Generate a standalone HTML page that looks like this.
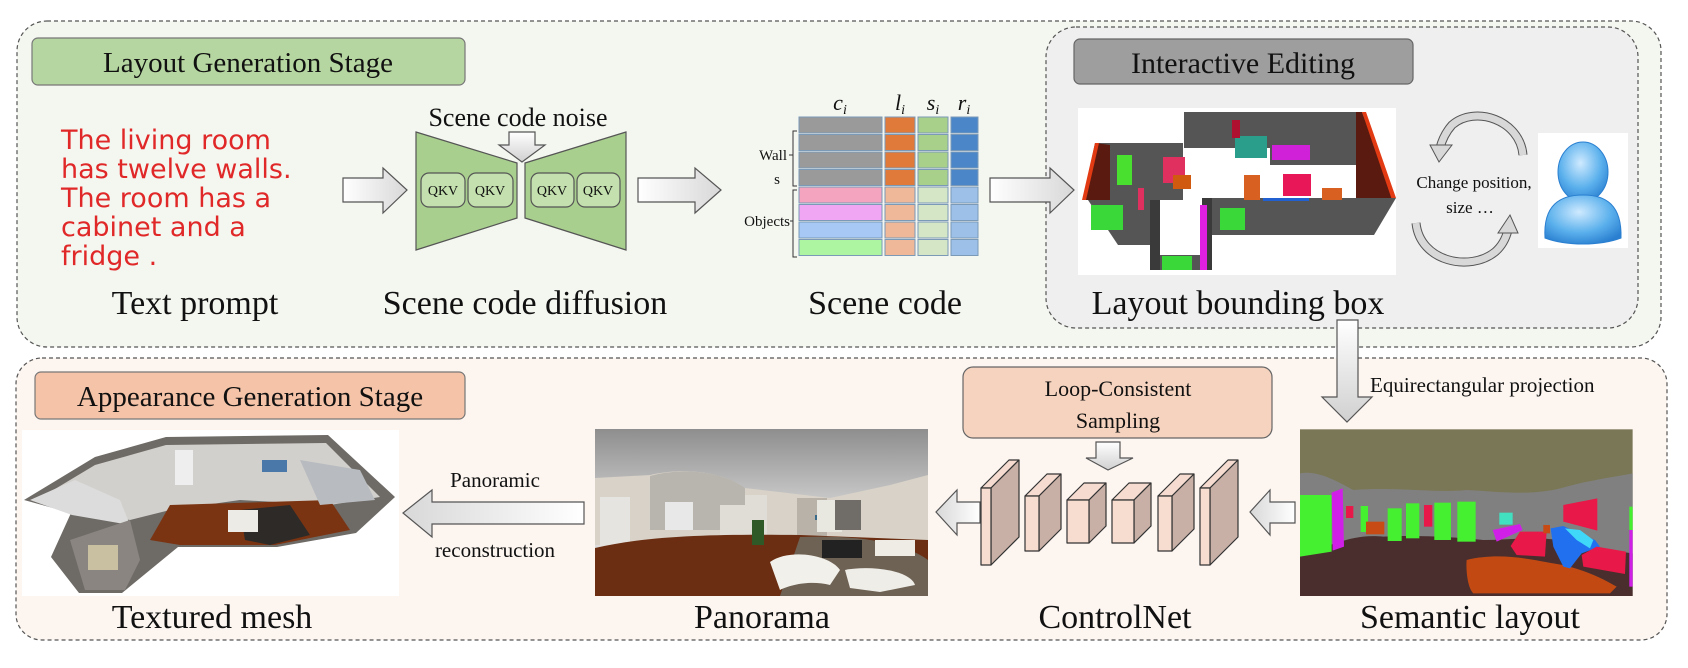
<!DOCTYPE html>
<html><head><meta charset="utf-8"><style>
html,body{margin:0;padding:0;background:#fff;}
svg{display:block;}
text{font-family:"Liberation Serif",serif;fill:#111;}
</style></head><body>
<svg width="1688" height="668" viewBox="0 0 1688 668" xmlns="http://www.w3.org/2000/svg">
<defs>
<linearGradient id="ag" x1="0" y1="0" x2="1" y2="0"><stop offset="0" stop-color="#fff"/><stop offset="1" stop-color="#d8d8d8"/></linearGradient>
<linearGradient id="agl" x1="1" y1="0" x2="0" y2="0"><stop offset="0" stop-color="#fff"/><stop offset="1" stop-color="#d8d8d8"/></linearGradient>
<linearGradient id="agd" x1="0" y1="0" x2="0" y2="1"><stop offset="0" stop-color="#fff"/><stop offset="1" stop-color="#d0d0d0"/></linearGradient>
<radialGradient id="user" cx="0.45" cy="0.35" r="0.7"><stop offset="0" stop-color="#cfeaff"/><stop offset="0.6" stop-color="#5ab0ec"/><stop offset="1" stop-color="#2a7fd0"/></radialGradient>
<linearGradient id="ceil" x1="0" y1="0" x2="0" y2="1"><stop offset="0" stop-color="#8e8e8e"/><stop offset="0.6" stop-color="#e0e0e0"/><stop offset="1" stop-color="#cfcfcf"/></linearGradient>
</defs>

<!-- Top stage box -->
<rect x="17" y="21" width="1644" height="326" rx="30" fill="#f4f7f0" stroke="#555" stroke-width="1.2" stroke-dasharray="4,3"/>
<rect x="1046" y="27" width="592" height="301" rx="30" fill="#efefef" stroke="#555" stroke-width="1.2" stroke-dasharray="4,3"/>

<rect x="32" y="38" width="433" height="47" rx="6" fill="#b5d6a0" stroke="#777" stroke-width="1.2"/>
<text x="248" y="72" font-size="29" text-anchor="middle">Layout Generation Stage</text>

<g font-size="27">
<text x="61" y="149" style="fill:#e02828;font-family:'DejaVu Sans',sans-serif">The living room</text>
<text x="61" y="178" style="fill:#e02828;font-family:'DejaVu Sans',sans-serif">has twelve walls.</text>
<text x="61" y="207" style="fill:#e02828;font-family:'DejaVu Sans',sans-serif">The room has a</text>
<text x="61" y="236" style="fill:#e02828;font-family:'DejaVu Sans',sans-serif">cabinet and a</text>
<text x="61" y="265" style="fill:#e02828;font-family:'DejaVu Sans',sans-serif">fridge .</text>
</g>

<polygon points="343,178 383,178 383,168 407,190 383,213 383,202 343,202" fill="url(#ag)" stroke="#555" stroke-width="1.2"/>

<text x="518" y="126" font-size="26" text-anchor="middle">Scene code noise</text>
<polygon points="416,132 517,163 517,218 416,250" fill="#a9cf8e" stroke="#555" stroke-width="1.2"/>
<polygon points="626,132 525,163 525,218 626,250" fill="#a9cf8e" stroke="#555" stroke-width="1.2"/>
<polygon points="509,132 535,132 535,145 545,145 522,162 499,145 509,145" fill="url(#agd)" stroke="#555" stroke-width="1.2"/>
<g fill="#c3e0ae" stroke="#555" stroke-width="1.2">
<rect x="421" y="173" width="44" height="34" rx="8"/><rect x="468" y="173" width="45" height="34" rx="8"/>
<rect x="531" y="173" width="43" height="34" rx="8"/><rect x="577" y="173" width="43" height="34" rx="8"/>
</g>
<g font-size="14" text-anchor="middle"><text x="443" y="195">QKV</text><text x="490" y="195">QKV</text><text x="552" y="195">QKV</text><text x="598" y="195">QKV</text></g>

<polygon points="638,178 695,178 695,168 721,190 695,213 695,202 638,202" fill="url(#ag)" stroke="#555" stroke-width="1.2"/>

<g font-size="22" font-style="italic" text-anchor="middle">
<text x="840" y="110">c<tspan font-size="14" dy="4">i</tspan></text>
<text x="900" y="110">l<tspan font-size="14" dy="4">i</tspan></text>
<text x="933" y="110">s<tspan font-size="14" dy="4">i</tspan></text>
<text x="964" y="110">r<tspan font-size="14" dy="4">i</tspan></text>
</g>
<g stroke="#7a9ab8" stroke-width="1">
<rect x="799" y="117" width="83" height="16" fill="#9a9a9a"/><rect x="799" y="134.5" width="83" height="16" fill="#9a9a9a"/><rect x="799" y="152" width="83" height="16" fill="#9a9a9a"/><rect x="799" y="169.5" width="83" height="16" fill="#9a9a9a"/>
<rect x="799" y="187" width="83" height="16" fill="#f4a4be"/><rect x="799" y="204.5" width="83" height="16" fill="#f0a6f2"/><rect x="799" y="222" width="83" height="16" fill="#a7c8f4"/><rect x="799" y="239.5" width="83" height="16" fill="#aef5a2"/>
<rect x="885" y="117" width="30" height="16" fill="#e07a3a"/><rect x="885" y="134.5" width="30" height="16" fill="#e07a3a"/><rect x="885" y="152" width="30" height="16" fill="#e07a3a"/><rect x="885" y="169.5" width="30" height="16" fill="#e07a3a"/>
<rect x="885" y="187" width="30" height="16" fill="#efb898"/><rect x="885" y="204.5" width="30" height="16" fill="#efb898"/><rect x="885" y="222" width="30" height="16" fill="#efb898"/><rect x="885" y="239.5" width="30" height="16" fill="#efb898"/>
<rect x="918" y="117" width="30" height="16" fill="#a8d08a"/><rect x="918" y="134.5" width="30" height="16" fill="#a8d08a"/><rect x="918" y="152" width="30" height="16" fill="#a8d08a"/><rect x="918" y="169.5" width="30" height="16" fill="#a8d08a"/>
<rect x="918" y="187" width="30" height="16" fill="#d5e6c6"/><rect x="918" y="204.5" width="30" height="16" fill="#d5e6c6"/><rect x="918" y="222" width="30" height="16" fill="#d5e6c6"/><rect x="918" y="239.5" width="30" height="16" fill="#d5e6c6"/>
<rect x="951" y="117" width="27" height="16" fill="#4a86c8"/><rect x="951" y="134.5" width="27" height="16" fill="#4a86c8"/><rect x="951" y="152" width="27" height="16" fill="#4a86c8"/><rect x="951" y="169.5" width="27" height="16" fill="#4a86c8"/>
<rect x="951" y="187" width="27" height="16" fill="#9cc0e8"/><rect x="951" y="204.5" width="27" height="16" fill="#9cc0e8"/><rect x="951" y="222" width="27" height="16" fill="#9cc0e8"/><rect x="951" y="239.5" width="27" height="16" fill="#9cc0e8"/>
</g>
<path d="M797,131 h-4 v55 h4 M793,155 h-4" fill="none" stroke="#333" stroke-width="1"/>
<path d="M797,190 h-4 v67 h4 M793,221 h-3" fill="none" stroke="#333" stroke-width="1"/>
<g font-size="15" text-anchor="end"><text x="787" y="160">Wall</text><text x="780" y="184">s</text><text x="790" y="226">Objects</text></g>

<polygon points="990,178 1050,178 1050,168 1074,190 1050,213 1050,202 990,202" fill="url(#ag)" stroke="#555" stroke-width="1.2"/>

<rect x="1074" y="39" width="339" height="45" rx="6" fill="#9e9e9e" stroke="#666" stroke-width="1.2"/>
<text x="1243" y="73" font-size="30" text-anchor="middle">Interactive Editing</text>

<rect x="1078" y="108" width="318" height="167" fill="#fff"/>
<g>
<polygon points="1184,112 1356,112 1356,165 1270,165 1270,148 1184,148" fill="#555"/>
<polygon points="1356,112 1362,112 1395,198 1356,205" fill="#5a1a10"/>
<polygon points="1362,112 1366,112 1396,198 1392,200" fill="#e23a12"/>
<polygon points="1095,143 1183,143 1183,200 1106,200 1095,175" fill="#555"/>
<polygon points="1095,143 1110,145 1110,200 1083,200" fill="#5a1a10"/>
<polygon points="1095,143 1099,143 1086,200 1082,200" fill="#e23a12"/>
<polygon points="1210,198 1396,198 1374,235 1210,235" fill="#555"/>
<polygon points="1088,200 1150,200 1150,245 1118,245" fill="#555"/>
<rect x="1150" y="200" width="10" height="70" fill="#3a3a3a"/>
<rect x="1160" y="255" width="42" height="15" fill="#555"/>
<rect x="1202" y="198" width="10" height="72" fill="#3a3a3a"/>
<rect x="1200" y="205" width="7" height="65" fill="#e020e0"/>
<rect x="1117" y="155" width="15" height="30" fill="#4ae030"/>
<rect x="1163" y="157" width="22" height="26" fill="#e03060"/>
<rect x="1173" y="175" width="18" height="14" fill="#d05a10"/>
<rect x="1235" y="136" width="32" height="22" fill="#2a9e8a"/>
<rect x="1272" y="145" width="38" height="15" fill="#d020d8"/>
<rect x="1283" y="174" width="28" height="22" fill="#e81858"/>
<rect x="1244" y="175" width="16" height="25" fill="#d86020"/>
<rect x="1322" y="188" width="20" height="12" fill="#d86020"/>
<rect x="1263" y="198" width="46" height="3" fill="#2060d0"/>
<rect x="1091" y="205" width="32" height="25" fill="#3ad838"/>
<rect x="1220" y="208" width="25" height="22" fill="#3ad838"/>
<rect x="1162" y="256" width="30" height="14" fill="#3ad838"/>
<rect x="1138" y="188" width="6" height="22" fill="#e03060"/>
<rect x="1232" y="120" width="8" height="18" fill="#b01030"/>
</g>

<path d="M1523,155 C1520,120 1475,105 1452,125 C1445,133 1442,140 1440,148" fill="none" stroke="#555" stroke-width="9"/>
<path d="M1523,155 C1520,120 1475,105 1452,125 C1445,133 1442,140 1440,148" fill="none" stroke="#d8d8d8" stroke-width="7"/>
<polygon points="1430,145 1452,145 1439,162" fill="#d8d8d8" stroke="#555" stroke-width="1"/>
<path d="M1416,223 C1420,262 1470,272 1495,252 C1502,246 1506,238 1508,230" fill="none" stroke="#555" stroke-width="9"/>
<path d="M1416,223 C1420,262 1470,272 1495,252 C1502,246 1506,238 1508,230" fill="none" stroke="#d8d8d8" stroke-width="7"/>
<polygon points="1498,233 1518,233 1510,215" fill="#d8d8d8" stroke="#555" stroke-width="1"/>
<text x="1474" y="188" font-size="17" text-anchor="middle">Change position,</text>
<text x="1470" y="213" font-size="17" text-anchor="middle">size …</text>
<rect x="1538" y="133" width="90" height="115" fill="#fff"/>
<ellipse cx="1583" cy="172" rx="25" ry="30" fill="url(#user)" stroke="#2a7fd0" stroke-width="1"/>
<path d="M1545,238 C1543,205 1560,195 1583,195 C1606,195 1622,205 1621,238 C1600,246 1566,246 1545,238 Z" fill="url(#user)" stroke="#2a7fd0" stroke-width="1"/>

<g font-size="34" text-anchor="middle">
<text x="195" y="314">Text prompt</text>
<text x="525" y="314">Scene code diffusion</text>
<text x="885" y="314">Scene code</text>
<text x="1238" y="314">Layout bounding box</text>
</g>

<!-- Bottom stage box -->
<rect x="16" y="358" width="1651" height="282" rx="26" fill="#fcf5f0" stroke="#555" stroke-width="1.2" stroke-dasharray="4,3"/>

<polygon points="1337,320 1358,320 1358,397 1372,397 1347,422 1322,397 1337,397" fill="url(#agd)" stroke="#555" stroke-width="1.2"/>
<text x="1370" y="392" font-size="21">Equirectangular projection</text>

<rect x="35" y="372" width="430" height="47" rx="6" fill="#f4c3a8" stroke="#777" stroke-width="1.2"/>
<text x="250" y="406" font-size="29" text-anchor="middle">Appearance Generation Stage</text>

<rect x="963" y="367" width="309" height="71" rx="10" fill="#f6d3bf" stroke="#666" stroke-width="1.2"/>
<text x="1118" y="396" font-size="22" text-anchor="middle">Loop-Consistent</text>
<text x="1118" y="428" font-size="22" text-anchor="middle">Sampling</text>
<polygon points="1096,442 1120,442 1120,458 1133,458 1108,470 1086,458 1096,458" fill="url(#agd)" stroke="#555" stroke-width="1.2"/>

<!-- textured mesh -->
<rect x="22" y="430" width="377" height="166" fill="#fff"/>
<g>
<polygon points="24,500 95,457 166,437 328,435 395,497 356,533 277,547 178,547 122,593 79,593 51,557 71,513" fill="#6e6a66"/>
<polygon points="40,498 95,465 166,445 326,443 380,497 330,505 240,500 170,510 130,520 70,510" fill="#d2d0cc"/>
<polygon points="30,500 75,480 120,500 130,525 72,515" fill="#dcdcdc"/>
<polygon points="170,505 330,500 350,530 275,545 180,545 150,540" fill="#7a3412"/>
<polygon points="240,510 290,505 310,535 270,545 245,540" fill="#2e2a28"/>
<rect x="228" y="510" width="30" height="22" fill="#ecebe6"/>
<rect x="175" y="450" width="18" height="35" fill="#eee"/>
<rect x="262" y="460" width="25" height="12" fill="#4a78a8"/>
<polygon points="300,460 360,470 375,500 320,505" fill="#b8bcc0"/>
<polygon points="70,540 130,520 140,560 125,590 85,590" fill="#8a8580"/>
<rect x="88" y="545" width="30" height="25" fill="#c8c0a0"/>
</g>
<polygon points="584,502 432,502 432,490 403,513 432,537 432,524 584,524" fill="url(#agl)" stroke="#555" stroke-width="1.2"/>
<text x="495" y="487" font-size="21" text-anchor="middle">Panoramic</text>
<text x="495" y="557" font-size="21" text-anchor="middle">reconstruction</text>

<!-- panorama -->
<g>
<rect x="595" y="429" width="333" height="167" fill="url(#ceil)"/>
<path d="M595,478 L650,475 C680,468 720,470 745,488 L830,498 L890,485 L928,475 L928,545 L595,545 Z" fill="#d8d2c8"/>
<path d="M650,476 C680,468 720,470 745,488 L745,530 L650,530 Z" fill="#b8b4ae"/>
<rect x="600" y="497" width="30" height="52" fill="#e6e4e0"/>
<rect x="665" y="502" width="28" height="28" fill="#e8e8e8"/>
<rect x="720" y="505" width="25" height="35" fill="#e0dcd6"/>
<rect x="745" y="495" width="22" height="42" fill="#e0dcd6"/>
<rect x="797" y="498" width="30" height="40" fill="#b8b2a8"/>
<rect x="815" y="515" width="14" height="5" fill="#3a6a8a"/>
<rect x="817" y="500" width="25" height="32" fill="#e8e8e0"/>
<rect x="835" y="500" width="26" height="30" fill="#706c68"/>
<path d="M595,548 C650,535 720,534 800,535 L928,540 L928,596 L595,596 Z" fill="#6b2e12"/>
<path d="M800,537 C850,535 900,540 928,560 L928,596 L780,596 Z" fill="#6e6254"/>
<rect x="822" y="540" width="40" height="18" fill="#222"/>
<path d="M770,562 C790,548 830,555 840,570 L830,585 C810,580 790,585 780,590 Z" fill="#f2f0ea"/>
<path d="M845,570 C870,565 910,570 915,585 L880,592 L850,588 Z" fill="#efede8"/>
<rect x="875" y="540" width="40" height="16" fill="#efece6"/>
<rect x="752" y="520" width="12" height="25" fill="#2f5a28"/>
</g>

<polygon points="980,502 957,502 957,490 936,512 957,535 957,523 980,523" fill="url(#agl)" stroke="#555" stroke-width="1.2"/>
<polygon points="1295,502 1270,502 1270,490 1250,512 1270,535 1270,523 1295,523" fill="url(#agl)" stroke="#555" stroke-width="1.2"/>

<g stroke="#333" stroke-width="1.2" stroke-linejoin="round">
<polygon points="981,488 991,488 1019,460 1009,460" fill="#f6dcd0"/><polygon points="991,488 1019,460 1019,537 991,565" fill="#c8b0a6"/><rect x="981" y="488" width="10" height="77" fill="#f7ddd0"/>
<polygon points="1025,496 1039,496 1061,474 1047,474" fill="#f6dcd0"/><polygon points="1039,496 1061,474 1061,529 1039,551" fill="#c8b0a6"/><rect x="1025" y="496" width="14" height="55" fill="#f7ddd0"/>
<polygon points="1067,500 1089,500 1106,483 1084,483" fill="#f6dcd0"/><polygon points="1089,500 1106,483 1106,526 1089,543" fill="#c8b0a6"/><rect x="1067" y="500" width="22" height="43" fill="#f7ddd0"/>
<polygon points="1112,500 1134,500 1151,483 1129,483" fill="#f6dcd0"/><polygon points="1134,500 1151,483 1151,526 1134,543" fill="#c8b0a6"/><rect x="1112" y="500" width="22" height="43" fill="#f7ddd0"/>
<polygon points="1158,496 1172,496 1194,474 1180,474" fill="#f6dcd0"/><polygon points="1172,496 1194,474 1194,529 1172,551" fill="#c8b0a6"/><rect x="1158" y="496" width="14" height="55" fill="#f7ddd0"/>
<polygon points="1200,488 1210,488 1238,460 1228,460" fill="#f6dcd0"/><polygon points="1210,488 1238,460 1238,537 1210,565" fill="#c8b0a6"/><rect x="1200" y="488" width="10" height="77" fill="#f7ddd0"/>
</g>

<g transform="translate(1300,420) scale(0.3333)">
<rect x="0" y="28" width="998" height="500" fill="#7a7756"/>
<path d="M0,160 C60,150 120,190 160,210 C300,200 400,220 500,210 C600,215 700,230 800,200 C870,180 950,170 998,160 L998,420 L0,420 Z" fill="#808080"/>
<path d="M0,400 C100,380 150,340 250,350 C350,345 450,350 550,360 C650,360 750,340 850,380 L998,400 L998,528 L0,528 Z" fill="#4a2e2e"/>
<path d="M500,420 C600,395 700,420 760,430 C830,440 900,470 950,500 L930,520 L520,520 C500,500 498,440 500,420 Z" fill="#c24a12"/>
<polygon points="0,225 95,225 95,395 0,410" fill="#44f030"/>
<polygon points="95,218 128,205 132,380 98,392" fill="#d020e8"/>
<rect x="138" y="258" width="22" height="36" fill="#e81848"/>
<rect x="182" y="258" width="22" height="78" fill="#44f030"/>
<rect x="198" y="305" width="55" height="38" fill="#c84a14"/>
<rect x="263" y="265" width="42" height="98" fill="#44f030"/>
<rect x="318" y="250" width="40" height="105" fill="#44f030"/>
<rect x="372" y="255" width="25" height="65" fill="#e81848"/>
<rect x="403" y="248" width="50" height="112" fill="#44f030"/>
<rect x="472" y="245" width="55" height="120" fill="#44f030"/>
<rect x="598" y="278" width="40" height="36" fill="#40e0c0"/>
<polygon points="578,330 660,312 668,330 590,365" fill="#d020e8"/>
<polygon points="790,255 892,235 892,332 790,305" fill="#e81848"/>
<polygon points="632,378 660,335 740,335 735,410 650,405" fill="#e81848"/>
<polygon points="752,325 790,318 885,360 900,380 845,400 810,445 790,440 760,380" fill="#2070f0"/>
<polygon points="795,325 840,330 880,360 870,385 830,360" fill="#40d8f8"/>
<polygon points="845,405 890,380 978,395 975,462 850,440" fill="#e81848"/>
<rect x="730" y="315" width="20" height="25" fill="#c84a14"/>
<rect x="988" y="260" width="10" height="70" fill="#44f030"/>
<rect x="988" y="330" width="10" height="170" fill="#d020e8"/>
</g>

<g font-size="34" text-anchor="middle">
<text x="212" y="628">Textured mesh</text>
<text x="762" y="628">Panorama</text>
<text x="1115" y="628">ControlNet</text>
<text x="1470" y="628">Semantic layout</text>
</g>
</svg>
</body></html>
